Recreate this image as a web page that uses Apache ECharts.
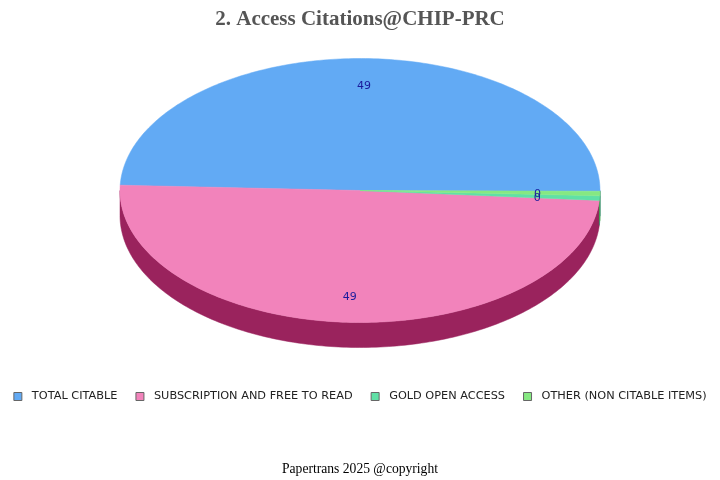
<!DOCTYPE html>
<html>
<head>
<meta charset="utf-8">
<script src="https://cdn.jsdelivr.net/npm/echarts@6/dist/echarts.min.js"></script>
<style>
  html, body { margin: 0; padding: 0; background: #fff; }
  #chart { width: 720px; height: 480px; }
</style>
</head>
<body>
<div id="chart"></div>
<script>
const categories = ['TOTAL CITABLE', 'SUBSCRIPTION AND FREE TO READ', 'GOLD OPEN ACCESS', 'OTHER (NON CITABLE ITEMS)'];
const values = [49, 49, 0, 0];

const colors = ['#62aaf4', '#f283bb', '#60e0a6', '#86e882'];
const sideColors = ['#2f6fb3', '#9a235d', '#2a9a68', '#4aa847'];

// pie geometry (tilted 3d look)
const geo = { cx: 360, cy: 190.5, rx: 240, ry: 132, depth: 25, minAngle: 2, startAngle: -0.3, labelRx: 0.74, labelRy: 0.8, labelDy: 1.5 };

// slice angles, counterclockwise from 3 o'clock, with a minimum sweep like the original
function sliceAngles() {
    const total = values.reduce((a, b) => a + b, 0);
    const isSmall = values.map(v => v / total * 360 < geo.minAngle);
    const nSmall = isSmall.filter(Boolean).length;
    const restSum = values.reduce((a, v, i) => a + (isSmall[i] ? 0 : v), 0);
    const rest = 360 - nSmall * geo.minAngle;
    let start = geo.startAngle;
    return values.map((v, i) => {
        const sweep = isSmall[i] ? geo.minAngle : v / restSum * rest;
        const out = [start, start + sweep];
        start += sweep;
        return out;
    });
}
const angles = sliceAngles();

function pt(deg, dz) {
    const r = deg * Math.PI / 180;
    return [geo.cx + geo.rx * Math.cos(r), geo.cy - geo.ry * Math.sin(r) + (dz || 0)];
}

function arcPoints(a1, a2, dz) {
    const pts = [];
    const steps = Math.max(2, Math.ceil(Math.abs(a2 - a1)));
    for (let k = 0; k <= steps; k++) {
        pts.push(pt(a1 + (a2 - a1) * k / steps, dz));
    }
    return pts;
}

function makeRender(i) {
    return function (params, api) {
        const [a1, a2] = angles[i];
        const children = [];
        // front wall (lower half of the ellipse faces the viewer)
        const ranges = [[180, 360], [-180, 0]];
        ranges.forEach(([lo, hi]) => {
            const s = Math.max(a1, lo), e = Math.min(a2, hi);
            if (e > s) {
                const pts = arcPoints(s, e, 0).concat(arcPoints(e, s, geo.depth));
                children.push({
                    type: 'polygon', z2: 1,
                    shape: { points: pts },
                    style: { fill: sideColors[i], stroke: sideColors[i], lineWidth: 0.5 }
                });
            }
        });
        // top face
        children.push({
            type: 'polygon', z2: 10,
            shape: { points: [[geo.cx, geo.cy]].concat(arcPoints(a1, a2, 0)) },
            style: { fill: colors[i], stroke: colors[i], lineWidth: 0.5 }
        });
        // value label
        const mid = (a1 + a2) / 2 * Math.PI / 180;
        children.push({
            type: 'text', z2: 20,
            x: geo.cx + geo.rx * geo.labelRx * Math.cos(mid),
            y: geo.cy - geo.ry * geo.labelRy * Math.sin(mid) + geo.labelDy,
            style: {
                text: String(api.value(0)),
                fill: '#1a1a9c',
                font: '11px "DejaVu Sans"',
                align: 'center',
                verticalAlign: 'middle'
            }
        });
        return { type: 'group', children: children };
    };
}

const chart = echarts.init(document.getElementById('chart'));
chart.setOption({
    animation: false,
    title: [
        {
            text: '2. Access Citations@CHIP-PRC',
            left: 'center', top: 4,
            textStyle: { fontFamily: '"Liberation Serif", serif', fontSize: 21, fontWeight: 'bold', color: '#555' }
        },
        {
            text: 'Papertrans 2025 @copyright',
            left: 'center', top: 457,
            textStyle: { fontFamily: '"Liberation Serif", serif', fontSize: 13.6, fontWeight: 'normal', color: '#000' }
        }
    ],
    legend: {
        top: 386, left: 'center',
        icon: 'rect', itemWidth: 8, itemHeight: 8, itemGap: 18,
        itemStyle: { borderColor: '#666', borderWidth: 1 },
        textStyle: { fontFamily: '"DejaVu Sans"', fontSize: 11.3, color: '#222', padding: [0, 0, 0, 5] },
        data: categories
    },
    series: categories.map((name, i) => ({
        type: 'custom',
        name: name,
        coordinateSystem: 'none',
        silent: true,
        itemStyle: { color: colors[i] },
        data: [[values[i]]],
        renderItem: makeRender(i)
    }))
});
</script>
</body>
</html>
